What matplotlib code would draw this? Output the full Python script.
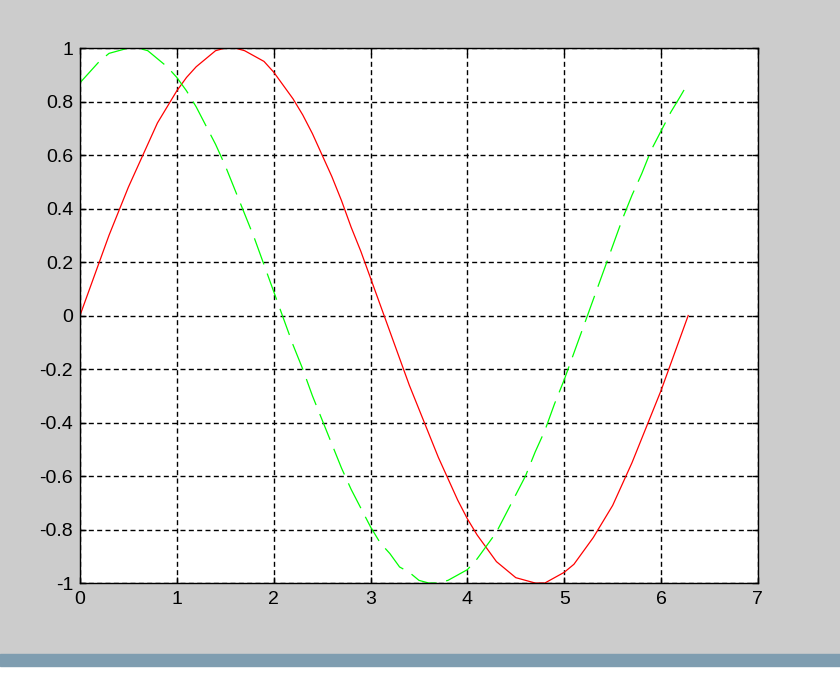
import matplotlib
matplotlib.use('Agg')
import matplotlib.pyplot as plt
from matplotlib.patches import Rectangle

plt.rcParams['font.family'] = ['Liberation Sans', 'DejaVu Sans']
plt.rcParams['lines.scale_dashes'] = False

# values
x = [0.0, 0.1, 0.2, 0.3, 0.4, 0.5, 0.6, 0.7, 0.8, 0.9, 1.0, 1.1, 1.2, 1.3, 1.4, 1.5,
     1.6, 1.7, 1.8, 1.9, 2.0, 2.1, 2.2, 2.3, 2.4, 2.5, 2.6, 2.7, 2.8, 2.9, 3.0, 3.1,
     3.2, 3.3, 3.4, 3.5, 3.6, 3.7, 3.8, 3.9, 4.0, 4.1, 4.2, 4.3, 4.4, 4.5, 4.6, 4.7,
     4.8, 4.9, 5.0, 5.1, 5.2, 5.3, 5.4, 5.5, 5.6, 5.7, 5.8, 5.9, 6.0, 6.1, 6.2, 6.28]
red = [0.00, 0.10, 0.20, 0.30, 0.39, 0.48, 0.56, 0.64, 0.72, 0.78, 0.84, 0.89, 0.93, 0.96, 0.99, 1.00,
       1.00, 0.99, 0.97, 0.95, 0.91, 0.86, 0.81, 0.75, 0.68, 0.60, 0.52, 0.43, 0.33, 0.24, 0.14, 0.04,
       -0.06, -0.16, -0.26, -0.35, -0.44, -0.53, -0.61, -0.69, -0.76, -0.82, -0.87, -0.92, -0.95, -0.98,
       -0.99, -1.00, -1.00, -0.98, -0.96, -0.93, -0.88, -0.83, -0.77, -0.71, -0.63, -0.55, -0.46, -0.37,
       -0.28, -0.18, -0.08, 0.00]
green = [0.87, 0.91, 0.95, 0.98, 0.99, 1.00, 1.00, 0.99, 0.96, 0.93, 0.89, 0.84, 0.78, 0.71, 0.64, 0.56,
         0.47, 0.38, 0.29, 0.19, 0.09, -0.01, -0.11, -0.20, -0.30, -0.39, -0.48, -0.57, -0.65, -0.72,
         -0.79, -0.85, -0.89, -0.94, -0.96, -0.99, -1.00, -1.00, -0.99, -0.97, -0.95, -0.91, -0.86, -0.81,
         -0.74, -0.67, -0.60, -0.51, -0.43, -0.33, -0.24, -0.14, -0.04, 0.06, 0.16, 0.26, 0.36, 0.45,
         0.53, 0.62, 0.69, 0.76, 0.82, 0.87]
xticks = [0, 1, 2, 3, 4, 5, 6, 7]
yticks = [-1, -0.8, -0.6, -0.4, -0.2, 0, 0.2, 0.4, 0.6, 0.8, 1]
ylabels = ['-1', '-0.8', '-0.6', '-0.4', '-0.2', '0', '0.2', '0.4', '0.6', '0.8', '1']

fig = plt.figure(figsize=(8.4, 6.93), dpi=100, facecolor='#cccccc')
# window status strip at the bottom
fig.patches.append(Rectangle((0, 0), 1, 0.039, transform=fig.transFigure, color='white', zorder=0))
fig.patches.append(Rectangle((0, 0.039), 1, 0.0175, transform=fig.transFigure, color='#7f9db0', zorder=0))

ax = fig.add_axes([0.0952, 0.1587, 0.8071, 0.772])
ax.set_facecolor('white')
ax.plot(x, red, color='#ff0000', lw=0.9)
ax.plot(x, green, color='#00ff00', lw=0.9, ls=(0, (20, 7)))

ax.set_xlim(0, 7); ax.set_ylim(-1, 1)
ax.set_xticks(xticks); ax.set_yticks(yticks)
ax.set_yticklabels(ylabels)
ax.grid(True, color='black', lw=1.0, ls=(0, (3.6, 2.4)))
ax.tick_params(direction='in', length=4, width=1.0, top=True, right=True, labelsize=14, colors='black')
ax.tick_params(axis='x', pad=6)
ax.tick_params(axis='y', pad=5)
for s in ax.spines.values():
    s.set_linewidth(1.0)

fig.savefig('out.png', dpi=100, facecolor=fig.get_facecolor())
